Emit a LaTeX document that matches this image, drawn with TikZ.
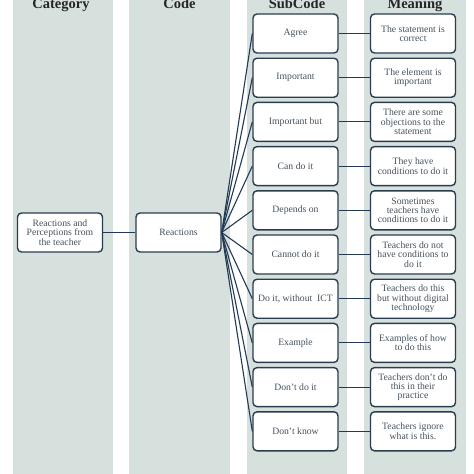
\documentclass[tikz,border=0pt]{standalone}
\usepackage{fontspec}
\setmainfont{Liberation Serif}
\definecolor{colc}{HTML}{D6E0DC}
\definecolor{boxc}{HTML}{2A3C50}
\definecolor{txtc}{HTML}{46525E}
\definecolor{linec}{HTML}{223A55}
\begin{document}
\begin{tikzpicture}[x=1pt,y=-1pt,
  box/.style={draw=boxc, line width=1.4pt, rounded corners=4pt, fill=white,
    minimum width=85pt, minimum height=39pt, align=center,
    font=\fontsize{9.7}{9.4}\selectfont, text=txtc, inner sep=0.5pt},
  conn/.style={draw=linec, line width=1.1pt},
  head/.style={font=\fontsize{14.5}{14.5}\selectfont\bfseries, anchor=base, text=black!85}]
\useasboundingbox (0,0) rectangle (474,474);
\clip (0,0) rectangle (474,474);
\fill[colc] (13,0) rectangle (113,474);
\fill[colc] (129,0) rectangle (230,474);
\fill[colc] (247,0) rectangle (347,474);
\fill[colc] (364,0) rectangle (466,474);
\node[head] (h1) at (61,8) {Category};
\node[head] (h2) at (179.5,8) {Code};
\node[head] (h3) at (297,8) {SubCode};
\node[head] (h4) at (415,8) {Meaning};
\node[box] (cat) at (60,232.5) {Reactions and\\Perceptions from\\the teacher};
\node[box] (reac) at (178.5,232.5) {Reactions};
\foreach \i/\s/\m in {
  0/Agree/{The statement is\\correct},
  1/Important/{The element is\\important},
  2/Important but/{There are some\\objections to the\\statement},
  3/Can do it/{They have\\conditions to do it},
  4/Depends on/{Sometimes\\teachers have\\conditions to do it},
  5/Cannot do it/{Teachers do not\\have conditions to\\do it},
  6/{Do it, without\ \ ICT}/{Teachers do this\\but without digital\\technology},
  7/Example/{Examples of how\\to do this},
  8/Don’t do it/{Teachers don’t do\\this in their\\practice},
  9/Don’t know/{Teachers ignore\\what is this.}}{
  \node[box] (s\i) at (295.5,{33.5+44.2*\i}) {\s};
  \node[box] (m\i) at (413,{33.5+44.2*\i}) {\m};
  \draw[conn] (s\i.east) -- (m\i.west);
  \draw[conn] (reac.east) -- (s\i.west);
}
\draw[conn] (cat.east) -- (reac.west);
\end{tikzpicture}
\end{document}
